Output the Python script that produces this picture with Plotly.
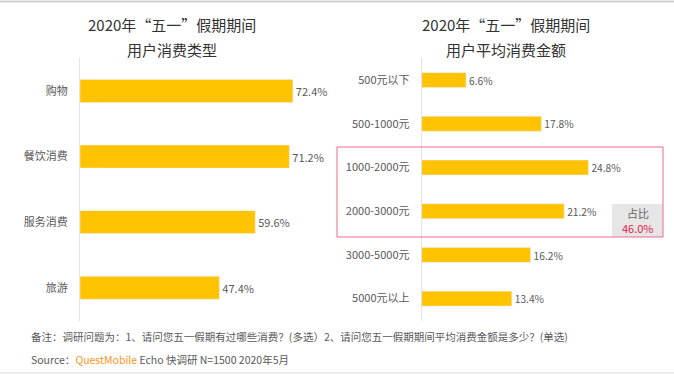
import plotly.graph_objects as go

W, H = 674, 377
FONT = "Noto Sans CJK SC"

# ---- data ----
left_title = ["2020年“五一”假期期间", "用户消费类型"]
left_cats = ["购物", "餐饮消费", "服务消费", "旅游"]
left_vals = [72.4, 71.2, 59.6, 47.4]

right_title = ["2020年“五一”假期期间", "用户平均消费金额"]
right_cats = ["500元以下", "500-1000元", "1000-2000元", "2000-3000元", "3000-5000元", "5000元以上"]
right_vals = [6.6, 17.8, 24.8, 21.2, 16.2, 13.4]

share_label = "占比"
share_value = "46.0%"
note_text = "备注：调研问题为：1、请问您五一假期有过哪些消费？(多选）2、请问您五一假期期间平均消费金额是多少？(单选)"
source_prefix = "Source："
source_brand = "QuestMobile"
source_rest = " Echo 快调研 N=1500 2020年5月"

BAR = "#FFC300"
LBL = "#595959"


def px(x):
    return x / W


def py(y):
    return 1 - y / H


fig = go.Figure()

fig.add_trace(go.Bar(
    x=left_vals, y=left_cats, orientation="h", marker_color=BAR, width=0.35,
    text=[f"{v:.1f}%" for v in left_vals], textposition="outside", cliponaxis=False,
    textfont=dict(size=11, color=LBL, family=FONT), xaxis="x", yaxis="y",
    showlegend=False, hoverinfo="skip"))

fig.add_trace(go.Bar(
    x=right_vals, y=right_cats, orientation="h", marker_color=BAR, width=0.34,
    text=[f"{v:.1f}%" for v in right_vals], textposition="outside", cliponaxis=False,
    textfont=dict(size=11, color=LBL, family=FONT), xaxis="x2", yaxis="y2",
    showlegend=False, hoverinfo="skip"))

ydom = [py(320.5), py(58.2)]

fig.update_layout(
    width=W, height=H, margin=dict(l=0, r=0, t=0, b=0),
    paper_bgcolor="white", plot_bgcolor="rgba(0,0,0,0)",
    font=dict(family=FONT, color=LBL),
    bargap=0.6,
    xaxis=dict(domain=[px(80), px(374)], range=[0, 100], visible=False, fixedrange=True),
    yaxis=dict(domain=ydom, categoryorder="array", categoryarray=left_cats,
               autorange="reversed", showline=True, linecolor="#e3e3e3", linewidth=1,
               showgrid=False, zeroline=False, ticks="", ticklabelstandoff=9,
               tickfont=dict(size=11, color=LBL, family=FONT), anchor="x"),
    xaxis2=dict(domain=[px(421.7), px(656.9)], range=[0, 35], visible=False, fixedrange=True, anchor="y2"),
    yaxis2=dict(domain=ydom, categoryorder="array", categoryarray=right_cats,
                autorange="reversed", showline=True, linecolor="#e3e3e3", linewidth=1,
                showgrid=False, zeroline=False, ticks="", ticklabelstandoff=9,
                tickfont=dict(size=11, color=LBL, family=FONT), anchor="x2"),
)

shapes = [
    # top and bottom frame lines
    dict(type="line", xref="paper", yref="paper", x0=0, x1=1, y0=py(1.5), y1=py(1.5),
         line=dict(color="#d0d0d0", width=2)),
    dict(type="line", xref="paper", yref="paper", x0=0, x1=1, y0=py(373), y1=py(373),
         line=dict(color="#d9d9d9", width=1)),
    # gray share box
    dict(type="rect", xref="paper", yref="paper", x0=px(612), x1=px(663), y0=py(237), y1=py(204),
         fillcolor="#e6e6e6", line=dict(width=0), layer="below"),
    # pink highlight box
    dict(type="rect", xref="paper", yref="paper", x0=px(337), x1=px(663), y0=py(237), y1=py(147),
         line=dict(color="#f06b8d", width=1)),
]
fig.update_layout(shapes=shapes)

ann = []
for cx, title in ((172, left_title), (506, right_title)):
    for i, line in enumerate(title):
        ann.append(dict(text=line, x=px(cx), y=py(24 + 26 * i), xref="paper", yref="paper",
                        showarrow=False, font=dict(size=15, color="#333333", family=FONT),
                        xanchor="center", yanchor="middle"))
ann.append(dict(text=share_label, x=px(637.5), y=py(213), xref="paper", yref="paper", showarrow=False,
                font=dict(size=11, color="#666666", family=FONT), xanchor="center", yanchor="middle"))
ann.append(dict(text=share_value, x=px(637.5), y=py(228), xref="paper", yref="paper", showarrow=False,
                font=dict(size=11, color="#e8174a", family=FONT), xanchor="center", yanchor="middle"))
ann.append(dict(text=note_text, x=px(29), y=py(336), xref="paper", yref="paper", showarrow=False,
                font=dict(size=10.5, color="#595959", family=FONT), xanchor="left", yanchor="middle"))
ann.append(dict(text=f"{source_prefix}<span style='color:#f7941d'>{source_brand}</span>{source_rest}",
                x=px(29), y=py(359), xref="paper", yref="paper", showarrow=False,
                font=dict(size=10.5, color="#595959", family=FONT), xanchor="left", yanchor="middle"))
fig.update_layout(annotations=ann)

fig.write_html("out.html")
